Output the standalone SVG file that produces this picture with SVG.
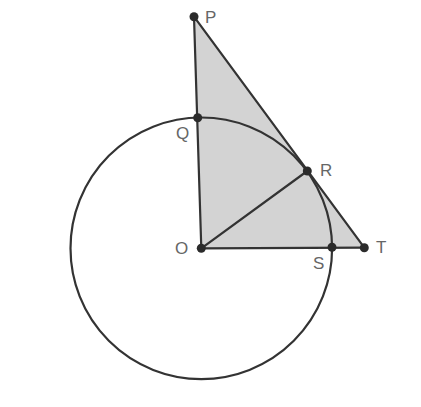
<svg xmlns="http://www.w3.org/2000/svg" width="421" height="407" viewBox="0 0 421 407">
<style>
.ln{stroke:#333;stroke-width:2.2;fill:none;stroke-linecap:round}
.pt{fill:#2b2b2b}
.lb{font-family:"Liberation Sans",Arial,sans-serif;font-size:17px;fill:#666}
</style>
<rect width="421" height="407" fill="#fff"/>
<g id="shade"><polygon points="194,16.7 364.3,247.7 201.3,248.3" fill="#d3d3d3"/></g>
<g id="connectors">
<circle class="ln" cx="201.3" cy="248.3" r="130.8"/>
<line class="ln" x1="194" y1="16.7" x2="201.3" y2="248.3"/>
<line class="ln" x1="194" y1="16.7" x2="364.3" y2="247.7"/>
<line class="ln" x1="201.3" y1="248.3" x2="364.3" y2="247.7"/>
<line class="ln" x1="201.3" y1="248.3" x2="307.3" y2="171"/>
</g>
<g id="P"><circle class="pt" cx="194" cy="16.7" r="4.5"/><text class="lb" x="205" y="23">P</text></g>
<g id="Q"><circle class="pt" cx="197.7" cy="117.7" r="4.5"/><text class="lb" x="176" y="139">Q</text></g>
<g id="R"><circle class="pt" cx="307.3" cy="171" r="4.5"/><text class="lb" x="320" y="176">R</text></g>
<g id="O"><circle class="pt" cx="201.3" cy="248.3" r="4.5"/><text class="lb" x="175" y="254">O</text></g>
<g id="S"><circle class="pt" cx="332" cy="247.3" r="4.5"/><text class="lb" x="313" y="269">S</text></g>
<g id="T"><circle class="pt" cx="364.3" cy="247.7" r="4.5"/><text class="lb" x="376" y="253">T</text></g>
</svg>
